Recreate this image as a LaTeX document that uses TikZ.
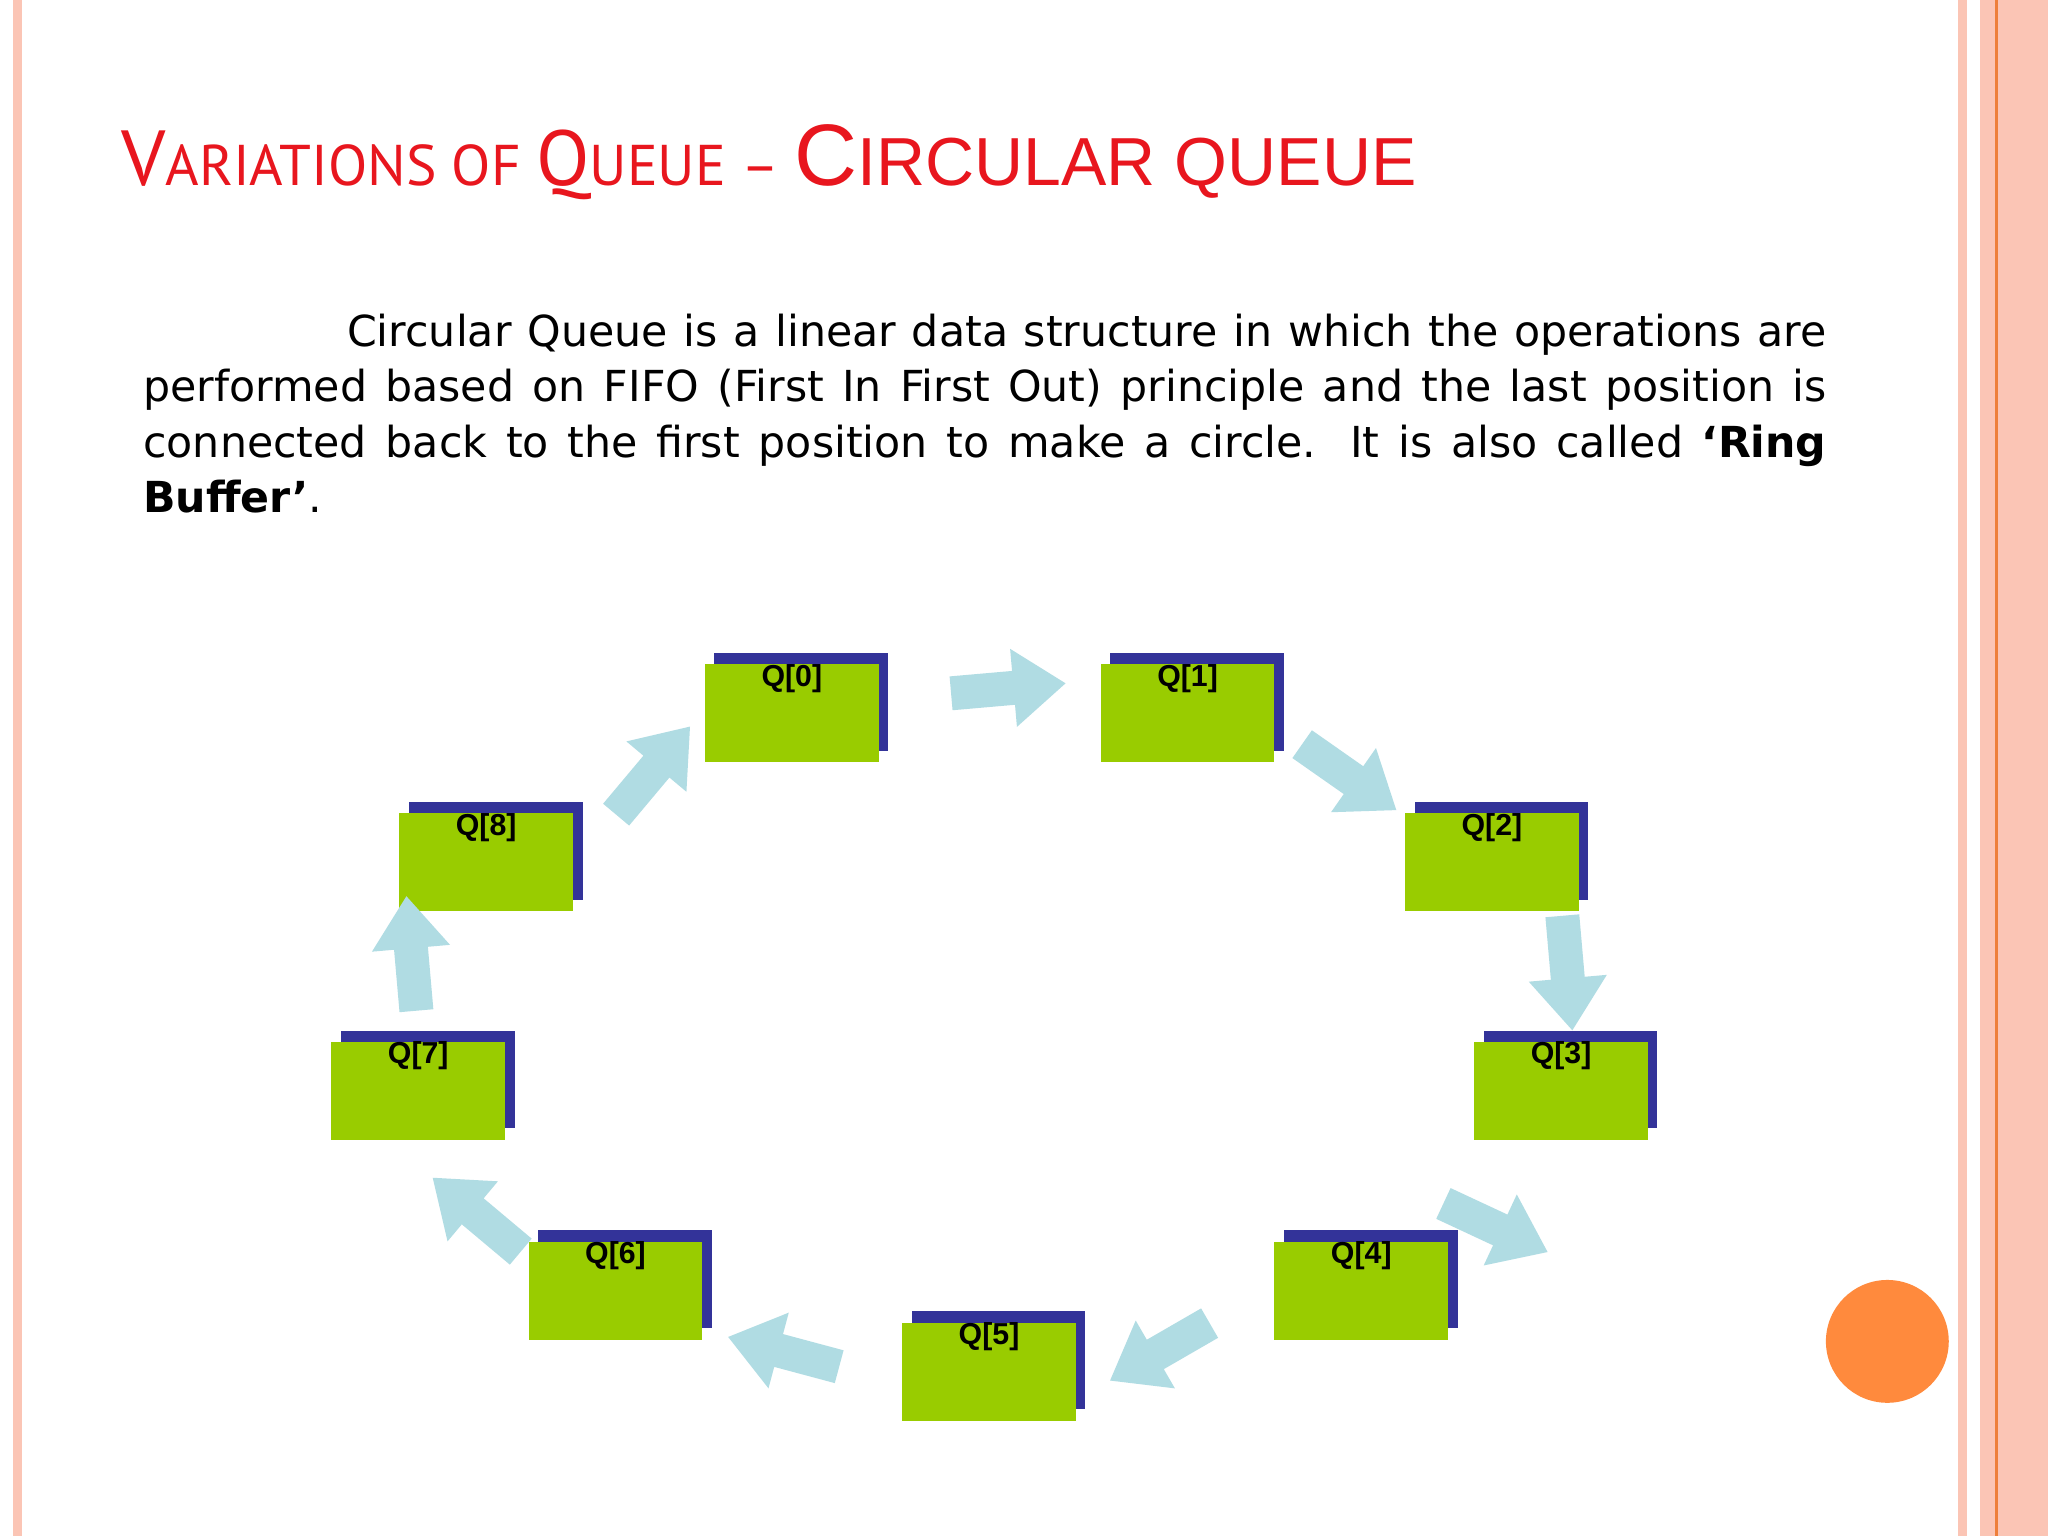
\documentclass[tikz,border=0pt]{standalone}
\usepackage{fontspec}
\setmainfont{DejaVu Sans}
\newfontfamily\arialf{Liberation Sans}
\newfontfamily\titlef{PT Sans}
\begin{document}
\begin{tikzpicture}[x=0.01cm,y=-0.01cm]
\definecolor{pinkb}{HTML}{FBC5B5}
\definecolor{orangeline}{HTML}{EE7F3A}
\definecolor{titlered}{HTML}{E8161E}
\definecolor{qgreen}{HTML}{99CC00}
\definecolor{qnavy}{HTML}{333399}
\definecolor{arrowc}{HTML}{B0DCE3}
\definecolor{dotor}{HTML}{FF8A3D}
\tikzset{
 qbox/.style={fill=qgreen, minimum width=1.33cm, minimum height=0.75cm, inner sep=0pt, anchor=north west},
 qlab/.style={font=\arialf\bfseries\fontsize{6.6}{7}\selectfont, anchor=north, inner sep=0pt, yshift=0.0cm},
 barrowc/.style={fill=arrowc}
}
\useasboundingbox (0,0) rectangle (1568,1176);
\fill[white] (0,0) rectangle (1568,1176);
% borders
\fill[pinkb] (10,0) rectangle (17,1176);
\fill[pinkb] (1499,0) rectangle (1506,1176);
\fill[pinkb] (1516,0) rectangle (1568,1176);
\fill[orangeline] (1527.5,0) rectangle (1529.5,1176);
% title
\node[anchor=base west, inner sep=0pt, text=titlered] (title) at (92,142)
 {\titlef\fontsize{17}{20}\selectfont V\fontsize{12.5}{14}\selectfont ARIATIONS OF \fontsize{17}{20}\selectfont Q\fontsize{12.5}{14}\selectfont UEUE – \arialf\fontsize{19}{22}\selectfont C\fontsize{14.8}{17}\selectfont IRCULAR QUEUE};
% body
\node[anchor=north west, inner sep=0pt, text width=12.88cm, align=justify] (body) at (109,240)
 {\fontsize{9.3}{11.95}\selectfont\hyphenpenalty=10000\exhyphenpenalty=10000 \hspace*{1.56cm}Circular Queue is a linear data structure in which the operations are performed based on FIFO (First In First Out) principle and the last position is connected back to the first position to make a circle. It is also called \textbf{‘Ring Buffer’}.};
% boxes
\foreach \n/\x/\y in {0/539/508,1/842/508,2/1075/622,3/1128/797,4/975/950,5/690/1012,6/404/950,7/253/797,8/305/622}{
  \fill[qnavy] (\x+8,\y-8) rectangle (\x+141,\y+67);
  \node[qbox] (q\n) at (\x,\y) {};
  \node[qlab] (l\n) at (q\n.north) {Q[\n]};
}
% arrows
\foreach \nm/\x/\y/\a in {a01/772/527/-5, a12/1033/595/35, a23/1200/745/85, a34/1145/940/25, a45/888/1035/150, a56/600/1035/195, a67/365/930/220, a78/315/730/265, a80/500/590/310}{
  \fill[barrowc, shift={(\x,\y)}, rotate=-\a] (-44,-13)--(4,-13)--(4,-30)--(44,0)--(4,30)--(4,13)--(-44,13)--cycle;
  \coordinate (\nm) at (\x,\y);
}
% orange dot
\node[circle, fill=dotor, minimum size=0.94cm, inner sep=0pt] (dot) at (1445,1027) {};
\end{tikzpicture}
\end{document}
